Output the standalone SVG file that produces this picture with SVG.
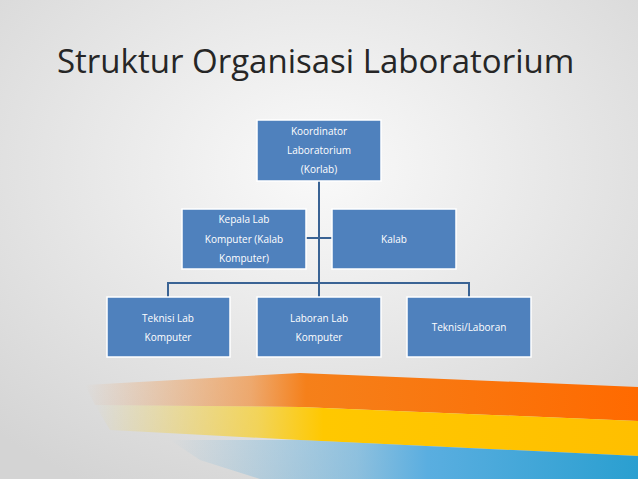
<svg xmlns="http://www.w3.org/2000/svg" width="638" height="479" viewBox="0 0 638 479">
<style>
.b{fill:#4f81bd;stroke:#fff;stroke-width:1.5}
.t{font-family:"Open Sans","Liberation Sans",sans-serif;font-size:10px;fill:#fff;text-anchor:middle}
.c{stroke:#3a6394;stroke-width:2;fill:none}
</style>
<defs>
<radialGradient id="bg" cx="0.5" cy="0.35" r="0.75"><stop offset="0" stop-color="#fafafa"/><stop offset="1" stop-color="#d4d4d4"/></radialGradient>
<linearGradient id="o" x1="0" x2="1"><stop offset="0" stop-color="#f58220" stop-opacity="0"/><stop offset="0.3" stop-color="#f58220" stop-opacity="0.6"/><stop offset="0.4" stop-color="#f5801a"/><stop offset="1" stop-color="#ff6a00"/></linearGradient>
<linearGradient id="y" x1="0" x2="1"><stop offset="0" stop-color="#ffcc00" stop-opacity="0"/><stop offset="0.3" stop-color="#ffcc00" stop-opacity="0.6"/><stop offset="0.42" stop-color="#ffc800"/><stop offset="1" stop-color="#ffbf00"/></linearGradient>
<linearGradient id="bl" x1="0" x2="1"><stop offset="0" stop-color="#5aaee0" stop-opacity="0"/><stop offset="0.4" stop-color="#5aaee0" stop-opacity="0.6"/><stop offset="0.55" stop-color="#5aaee0"/><stop offset="1" stop-color="#2a9fd0"/></linearGradient>
</defs>
<rect width="638" height="479" fill="url(#bg)"/>
<path d="M85,385 L300,373 L638,387 L638,421 L300,407 L95,405Z" fill="url(#o)"/>
<path d="M95,405 L300,407 L638,421 L638,456 L300,440 L110,430Z" fill="url(#y)"/>
<path d="M170,440 L300,440 L638,456 L638,479 L260,479 L200,460Z" fill="url(#bl)"/>
<text x="57" y="73" font-family="Open Sans,Liberation Sans,sans-serif" font-size="33" fill="#262626">Struktur Organisasi Laboratorium</text>
<g id="connectors">
<path class="c" d="M319,181 V283 M306,238 H332 M168,297 V283 H469 V297 M319,283 V297"/>
</g>
<g id="korlab"><rect class="b" x="257" y="120" width="124" height="61"/><text class="t" x="319" y="135">Koordinator</text><text class="t" x="319" y="154">Laboratorium</text><text class="t" x="319" y="173">(Korlab)</text></g>
<g id="kepala"><rect class="b" x="182" y="209" width="124" height="60"/><text class="t" x="244" y="223">Kepala Lab</text><text class="t" x="244" y="243">Komputer (Kalab</text><text class="t" x="244" y="262">Komputer)</text></g>
<g id="kalab"><rect class="b" x="332" y="209" width="124" height="60"/><text class="t" x="394" y="243">Kalab</text></g>
<g id="teknisi"><rect class="b" x="107" y="297" width="123" height="60"/><text class="t" x="168" y="322">Teknisi Lab</text><text class="t" x="168" y="341">Komputer</text></g>
<g id="laboran"><rect class="b" x="257" y="297" width="124" height="60"/><text class="t" x="319" y="322">Laboran Lab</text><text class="t" x="319" y="341">Komputer</text></g>
<g id="tl"><rect class="b" x="407" y="297" width="124" height="60"/><text class="t" x="469" y="331">Teknisi/Laboran</text></g>
</svg>
